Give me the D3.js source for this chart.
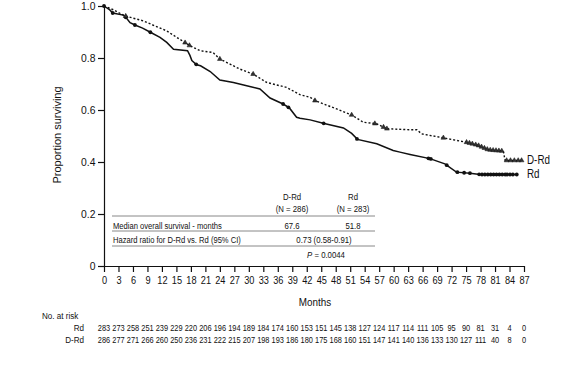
<!DOCTYPE html>
<html lang="en">
    <head>
        <meta charset="utf-8" />
        <title>Overall survival D-Rd vs Rd</title>
        <style>
            body { margin: 0; background: #fff; }
            svg text {
                font-family: "Liberation Sans", Arial, sans-serif;
                fill: #111;
            }
            .axis path, .axis line { stroke: #111; stroke-width: 1.2; }
        </style>
        <script type="text/javascript" src="https://d3js.org/d3.v7.min.js"></script>
    </head>
    <body>
        <script type="text/javascript">
            // Kaplan-Meier curves: [month, proportion surviving]
            var rdCurve = [[0,1.0],[1.2,0.985],[1.8,0.973],[4.0,0.965],[4.6,0.955],[5.4,0.936],[6.4,0.927],
                [8,0.915],[9.5,0.90],[11.6,0.879],[13,0.86],[14.4,0.834],[17.3,0.828],[17.8,0.81],[18.2,0.79],
                [19.2,0.774],[20,0.77],[22,0.748],[24,0.715],[26.8,0.706],[30.2,0.69],[32.3,0.681],[34.4,0.646],
                [37.1,0.623],[38.4,0.608],[39.9,0.572],[40.6,0.568],[42.7,0.562],[45.4,0.549],[49.6,0.531],
                [51.3,0.51],[52.5,0.487],[56.5,0.47],[59.9,0.444],[61.3,0.438],[63.4,0.429],[67.5,0.413],
                [70.6,0.393],[73,0.361],[75.8,0.357],[77.9,0.352],[85.5,0.352]];
            var drdCurve = [[0,1.0],[2,0.985],[4.3,0.962],[8.1,0.943],[13,0.904],[15.7,0.872],[17.8,0.847],
                [19.9,0.828],[22.6,0.821],[24,0.796],[28.2,0.757],[30.9,0.738],[33.7,0.706],[37.8,0.687],
                [40.6,0.659],[42.7,0.649],[43.7,0.636],[48.2,0.604],[51.3,0.581],[53.7,0.553],[56.5,0.547],
                [58.6,0.528],[63.4,0.524],[64.8,0.524],[65.8,0.508],[70.3,0.493],[75.1,0.476],[77.5,0.464],
                [79.6,0.447],[82.7,0.442],[83.1,0.406],[86.5,0.406]];

            // censored observations (months)
            var rdCensor = [0, 1.8, 4.5, 6.4, 9.6, 19.1, 37.1, 38.2, 45.5, 52.4, 67.2, 67.7, 71, 73.2, 74.6, 75.8,
                77.7, 78.3, 78.9, 79.5, 80.1, 80.7, 81.3, 81.9, 82.5, 83.1, 83.5, 84.1, 84.7, 85.5];
            var drdCensor = [4.5, 16.8, 17.7, 24, 30.9, 43.7, 51.3, 56.1, 57.9, 58.6, 70.3, 75.1, 75.7, 76.3, 77,
                77.6, 78.2, 78.8, 79.4, 80, 80.6, 81.2, 81.8, 82.4, 83.4, 84.2, 85, 85.8, 86.5];

            var months = d3.range(0, 88, 3);
            var yTicks = [0, 0.2, 0.4, 0.6, 0.8, 1.0];
            var riskRd = [283,273,258,251,239,229,220,206,196,194,189,184,174,160,153,151,145,138,127,124,
                117,114,111,105,95,90,81,31,4,0];
            var riskDrd = [286,277,271,266,260,250,236,231,222,215,207,198,193,186,180,175,168,160,151,147,
                141,140,136,133,130,127,111,40,8,0];

            var groups = ['D-Rd', 'Rd'];
            var groupN = ['(N = 286)', '(N = 283)'];
            var medianOS = ['67.6', '51.8'];
            var hazard = '0.73 (0.58-0.91)';
            var pValue = '0.0044';

            var width = 563, height = 367;

            var x = d3.scaleLinear().domain([0, 87]).range([104, 524]);
            var y = d3.scaleLinear().domain([0, 1]).range([266, 6]);

            var svg = d3.select('body').append('svg')
                .attr('width', width)
                .attr('height', height);

            // the original uses a condensed face, so squeeze the text horizontally
            function label(parent, px, py, s, size, sx, anchor) {
                return parent.append('text')
                    .attr('transform', 'translate(' + px + ',' + py + ') scale(' + sx + ',1)')
                    .attr('text-anchor', anchor || 'start')
                    .style('font-size', size + 'px')
                    .text(s);
            }

            // axes
            svg.append('g')
                .attr('class', 'axis')
                .attr('transform', 'translate(0,266)')
                .call(d3.axisBottom(x).tickValues(months).tickSize(6).tickPadding(4).tickSizeOuter(0))
                .call(function(g) {
                    g.selectAll('text').style('font-size', '11.5px').attr('transform', 'scale(0.8,1)');
                });

            svg.append('g')
                .attr('class', 'axis')
                .attr('transform', 'translate(104,0)')
                .call(d3.axisLeft(y).tickValues(yTicks).tickSize(6).tickPadding(2).tickSizeOuter(0)
                    .tickFormat(function(d) { return d === 0 ? '0' : d3.format('.1f')(d); }))
                .call(function(g) {
                    g.selectAll('text').style('font-size', '11.5px')
                        .attr('x', -9.5).attr('transform', 'scale(0.9,1)');
                });

            svg.append('text')
                .attr('transform', 'translate(61,135) rotate(-90)')
                .attr('text-anchor', 'middle')
                .style('font-size', '11px')
                .text('Proportion surviving');

            label(svg, 315, 306, 'Months', 11.5, 0.86, 'middle');

            // curves
            var line = d3.line()
                .x(function(d) { return x(d[0]); })
                .y(function(d) { return y(d[1]); });

            svg.append('path')
                .datum(drdCurve)
                .attr('d', line)
                .attr('fill', 'none')
                .attr('stroke', '#111')
                .attr('stroke-width', 1.4)
                .attr('stroke-dasharray', '2,2');

            svg.append('path')
                .datum(rdCurve)
                .attr('d', line)
                .attr('fill', 'none')
                .attr('stroke', '#111')
                .attr('stroke-width', 1.5);

            function valueAt(curve, m) {
                for (var i = 1; i < curve.length; i++) {
                    if (m <= curve[i][0]) {
                        var a = curve[i - 1], b = curve[i];
                        var t = (m - a[0]) / (b[0] - a[0] || 1);
                        return a[1] + t * (b[1] - a[1]);
                    }
                }
                return curve[curve.length - 1][1];
            }

            svg.append('g').selectAll('circle')
                .data(rdCensor)
                .enter().append('circle')
                .attr('cx', function(d) { return x(d); })
                .attr('cy', function(d) { return y(valueAt(rdCurve, d)); })
                .attr('r', 1.9)
                .attr('fill', '#111');

            svg.append('g').selectAll('path')
                .data(drdCensor)
                .enter().append('path')
                .attr('d', d3.symbol(d3.symbolTriangle).size(10))
                .attr('transform', function(d) {
                    return 'translate(' + x(d) + ',' + y(valueAt(drdCurve, d)) + ')';
                })
                .attr('fill', '#333')
                .attr('stroke', '#111')
                .attr('stroke-width', 0.5);

            // curve labels
            label(svg, 527, 164, groups[0], 12, 0.82);
            label(svg, 527, 178, groups[1], 12, 0.82);

            // summary table
            var colX = [292, 353];
            var table = svg.append('g');
            groups.forEach(function(g, i) {
                label(table, colX[i], 200, g, 9.5, 0.82, 'middle');
                label(table, colX[i], 212, groupN[i], 9.5, 0.82, 'middle');
                label(table, colX[i], 229, medianOS[i], 9.5, 0.82, 'middle');
            });
            [216, 231, 246].forEach(function(ly) {
                table.append('line')
                    .attr('x1', 112).attr('x2', 375)
                    .attr('y1', ly).attr('y2', ly)
                    .attr('stroke', '#888').attr('stroke-width', 1);
            });
            label(table, 113, 229, 'Median overall survival - months', 9.5, 0.8);
            label(table, 113, 243, 'Hazard ratio for D-Rd vs. Rd (95% CI)', 9.5, 0.8);
            label(table, 324, 243, hazard, 9.5, 0.82, 'middle');
            var p = label(table, 326, 258, '', 9.5, 0.82, 'middle');
            p.append('tspan').style('font-style', 'italic').text('P');
            p.append('tspan').text(' = ' + pValue);

            // number at risk
            var risk = svg.append('g');
            label(risk, 42, 319, 'No. at risk', 9.5, 0.85);
            label(risk, 84, 331, 'Rd', 9.5, 0.85, 'end');
            label(risk, 84, 343, 'D-Rd', 9.5, 0.85, 'end');
            riskRd.forEach(function(d, i) {
                label(risk, x(months[i]), 331, d, 9.5, 0.78, 'middle');
            });
            riskDrd.forEach(function(d, i) {
                label(risk, x(months[i]), 343, d, 9.5, 0.78, 'middle');
            });
        </script>
    </body>
</html>
